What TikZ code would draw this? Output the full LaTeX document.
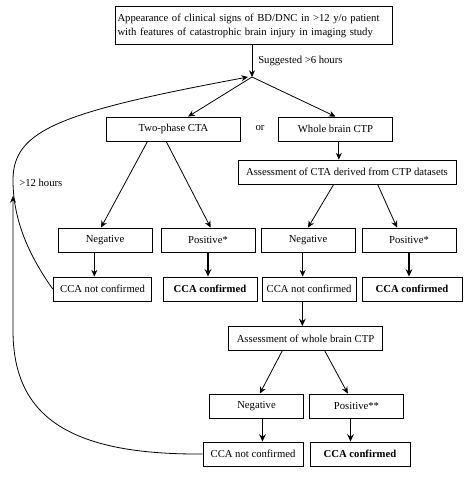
\documentclass[tikz,border=0pt]{standalone}
\usepackage{amsmath}
\usepackage{fontspec}
\setmainfont{Liberation Serif}
\usetikzlibrary{arrows.meta}

\begin{document}
\begin{tikzpicture}[x=0.75pt,y=0.75pt,yscale=-1,xscale=1,
  box/.style={draw,line width=0.65pt,minimum height=18pt,inner sep=0.75pt,font=\fontsize{8}{10.5}\selectfont},
  arr/.style={line width=0.6pt,-{Stealth[length=5pt,width=4.5pt]}},
  thickarr/.style={line width=1.1pt,-{Stealth[length=5.5pt,width=5pt]}},
  lbl/.style={inner sep=0.75pt,font=\fontsize{8}{10.5}\selectfont}]
\useasboundingbox (0,0) rectangle (474,486);

%Shape: Boxes [top]
\node [box,text width=204pt,inner xsep=1.9pt,minimum height=28pt,align=left] (top) at (253.5,25.5) {Appearance of clinical signs of BD/DNC in >12 y/o patient\\with features of catastrophic brain injury in imaging study};
\coordinate (J) at (252,77);

%Shape: Boxes [first choice]
\node [box,minimum width=101pt] (twophase) at (173.5,129) {Two-phase CTA};
\node [box,minimum width=85pt] (wholectp) at (335.5,129) {Whole brain CTP};
\node [box,minimum width=163.5pt] (assesscta) at (347,172) {Assessment of CTA derived from CTP datasets};

%Shape: Boxes [row 1]
\node [box,minimum width=70.5pt] (neg1) at (105,240) {Negative};
\node [box,minimum width=70.5pt] (pos1) at (208,240) {Positive*};
\node [box,minimum width=70.5pt] (neg2) at (308,240) {Negative};
\node [box,minimum width=70.5pt] (pos2) at (409,240) {Positive*};

%Shape: Boxes [row 2]
\node [box,minimum width=74pt] (nc1) at (102.5,289) {CCA not confirmed};
\node [box,minimum width=70.5pt] (c1) at (210,289) {\textbf{CCA confirmed}};
\node [box,minimum width=70.5pt] (nc2) at (309,289) {CCA not confirmed};
\node [box,minimum width=75pt] (c2) at (412,289) {\textbf{CCA confirmed}};

%Shape: Boxes [whole brain CTP]
\node [box,minimum width=115pt] (assessctp) at (305.5,338.5) {Assessment of whole brain CTP};
\node [box,minimum width=71pt] (neg3) at (256.5,406) {Negative};
\node [box,minimum width=71pt] (pos3) at (356.5,406) {Positive**};
\node [box,minimum width=75pt] (nc3) at (253,454) {CCA not confirmed};
\node [box,minimum width=75pt] (c3) at (360,454) {\textbf{CCA confirmed}};

%Straight Lines [top part]
\draw [arr] (top.south -| J) -- (J);
\draw [arr] (J) -- ([xshift=11]twophase.north);
\draw [arr] (J) -- (wholectp.north);
\draw [arr] ([xshift=2.5]wholectp.south) -- ([xshift=2.5]wholectp.south |- assesscta.north);

%Straight Lines [branches]
\draw [arr] ([xshift=-19.5]twophase.south) -- ([xshift=-3]neg1.north);
\draw [arr] ([xshift=-5.5]twophase.south) -- ([xshift=2]pos1.north);
\draw [arr] ([xshift=-10]assesscta.south) -- (neg2.north);
\draw [arr] ([xshift=23]assesscta.south) -- ([xshift=-9]pos2.north);
\draw [arr] ([xshift=-17.5]assessctp.south) -- ([xshift=2.5]neg3.north);
\draw [arr] ([xshift=14.5]assessctp.south) -- ([xshift=-6.5]pos3.north);

%Straight Lines [down]
\draw [arr] ([xshift=-8]neg1.south) -- ([xshift=-8]neg1.south |- nc1.north);
\draw [thickarr] (pos1.south) -- (pos1.south |- c1.north);
\draw [arr] ([xshift=-4]neg2.south) -- ([xshift=-4]neg2.south |- nc2.north);
\draw [thickarr] (pos2.south) -- (pos2.south |- c2.north);
\draw [thickarr] ([xshift=-5]nc2.south) -- ([xshift=-5]nc2.south |- assessctp.north);
\draw [thickarr] ([xshift=4.5]neg3.south) -- ([xshift=4.5]neg3.south |- nc3.north);
\draw [thickarr] ([xshift=-4.5]pos3.south) -- ([xshift=-4.5]pos3.south |- c3.north);

%Curves [loops back]
\coordinate (uptip) at (13,196);
\draw [arr] (nc1.west) .. controls (25,250) and (13,215) .. (13,180) .. controls (13,130) and (60,112) .. ([xshift=-3]J);
\draw [arr] (nc3.west) -- (197,454) .. controls (60,454) and (13,410) .. (13,330) -- (uptip);

% Text Node
\node [lbl,anchor=west] (sugg) at (257,61) {Suggested >6 hours};
% Text Node
\node [lbl] (or) at (260,128) {or};
% Text Node
\node [lbl,anchor=west] (hrs) at (18,183) {>12 hours};

\end{tikzpicture}
\end{document}
